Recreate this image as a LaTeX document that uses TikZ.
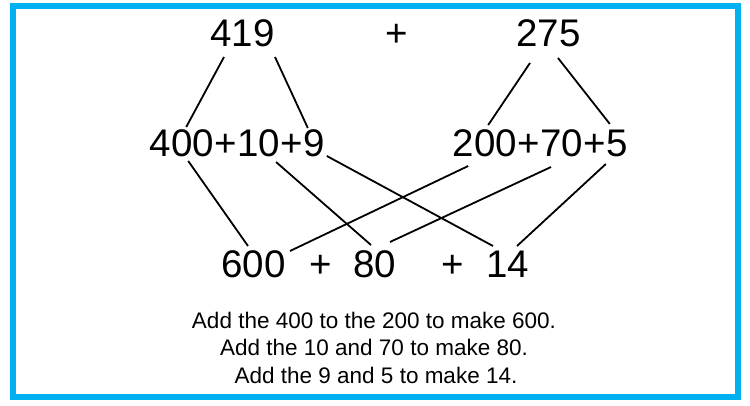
\documentclass[tikz,border=0pt]{standalone}
\usepackage{fontspec}
\setmainfont{Liberation Sans}
\usetikzlibrary{calc}
\definecolor{framecyan}{RGB}{0,176,240}
\begin{document}
\begin{tikzpicture}[x=1pt,y=-1pt,
  big/.style={inner sep=0pt,font=\fontsize{38.5}{40}\selectfont},
  note/.style={inner sep=0pt,font=\fontsize{22.5}{27.5}\selectfont,align=center},
  link/.style={line width=1.8pt,black}]
\useasboundingbox[fill=white] (0,0) rectangle (750,406);
\draw[framecyan,line width=6pt] (13,6.5) rectangle (737.7,397);
% top row
\node[big,anchor=base] (n419) at (242.5,47) {419};
\node[big,anchor=base] (ptop) at (397,47) {+};
\node[big,anchor=base] (n275) at (548.5,47) {275};
% middle row, left
\node[big,anchor=base west] (n400) at (149.6,157) {400};
\node[big,anchor=base west] (pl1) at (n400.base east) {+};
\node[big,anchor=base west] (n10) at (pl1.base east) {10};
\node[big,anchor=base west] (pl2) at (n10.base east) {+};
\node[big,anchor=base west] (n9) at (pl2.base east) {9};
% middle row, right
\node[big,anchor=base west] (n200) at (452.5,157) {200};
\node[big,anchor=base west] (pr1) at (n200.base east) {+};
\node[big,anchor=base west] (n70) at (pr1.base east) {70};
\node[big,anchor=base west] (pr2) at (n70.base east) {+};
\node[big,anchor=base west] (n5) at (pr2.base east) {5};
% bottom row
\node[big,anchor=base] (n600) at (253.5,277) {600};
\node[big,anchor=base] (pb1) at (321,277) {+};
\node[big,anchor=base] (n80) at (374.5,277) {80};
\node[big,anchor=base] (pb2) at (452.5,277) {+};
\node[big,anchor=base] (n14) at (507.5,277) {14};
% explanation
\node[note,anchor=base] (t1) at (374,328) {Add the 400 to the 200 to make 600.};
\node[note,anchor=base] (t2) at (374,355.5) {Add the 10 and 70 to make 80.};
\node[note,anchor=base] (t3) at (376,383) {Add the 9 and 5 to make 14.};
% connectors
\draw[link] ($(n419.base)+(-18.5,10)$) -- ($(n400.base)+(4.3,-30)$);
\draw[link] ($(n419.base)+(32.5,10)$) -- ($(n9.base)+(-6.3,-29)$);
\draw[link] ($(n275.base)+(-18.5,16)$) -- ($(n200.base)+(3.4,-32)$);
\draw[link] ($(n275.base)+(9.5,11)$) -- ($(n5.base)+(-7.2,-33)$);
\draw[link] ($(n400.base)+(6.3,4)$) -- ($(n600.base)+(-5.5,-31)$);
\draw[link] ($(n10.base)+(17.3,5)$) -- ($(n80.base)+(-3.5,-32)$);
\draw[link] ($(n9.base)+(12.7,-1)$) -- ($(n14.base)+(-14.5,-31)$);
\draw[link] ($(n200.base)+(-16.6,9)$) -- ($(n600.base)+(36.5,-26)$);
\draw[link] ($(n70.base)+(-10.6,10)$) -- ($(n80.base)+(15.5,-35)$);
\draw[link] ($(n5.base)+(-11.2,7)$) -- ($(n14.base)+(9.5,-31)$);
\end{tikzpicture}
\end{document}
